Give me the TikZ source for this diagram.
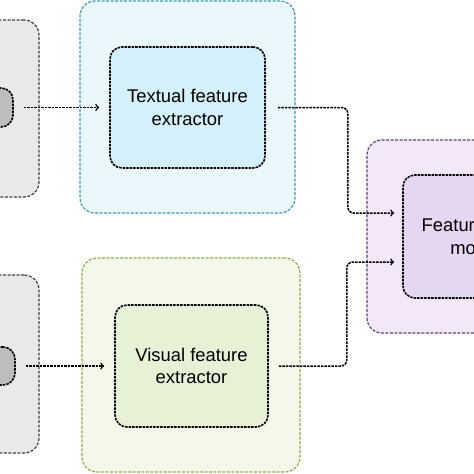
\documentclass[tikz,border=0pt]{standalone}
\usepackage{fontspec}
\setmainfont{Liberation Sans}
\usetikzlibrary{calc}

\definecolor{grayout}{HTML}{E9E9E9}
\definecolor{grayin}{HTML}{BDBDBD}
\definecolor{blueout}{HTML}{EAF7FC}
\definecolor{bluein}{HTML}{D4F0FA}
\definecolor{blueline}{HTML}{3E9DB5}
\definecolor{greenout}{HTML}{F4F8EA}
\definecolor{greenin}{HTML}{E6F1D6}
\definecolor{greenline}{HTML}{8FAE4E}
\definecolor{purpleout}{HTML}{F2E8F7}
\definecolor{purplein}{HTML}{E5D6F2}
\definecolor{purpleline}{HTML}{5A4575}

\begin{document}
\begin{tikzpicture}[x=1pt,y=-1pt,
    outerbox/.style={rectangle,rounded corners=15pt,dash pattern=on 3pt off 1.5pt,line width=1.2pt,inner sep=0pt},
    innerbox/.style={rectangle,rounded corners=12pt,draw=black,dash pattern=on 2.5pt off 1pt,line width=1.6pt,inner sep=0pt,align=center,font=\fontsize{18.4}{22.5}\selectfont},
    flow/.style={->,dash pattern=on 2.5pt off 1pt,line width=1.5pt,rounded corners=6pt}]
        \clip (0,0) rectangle (474,474);

        \node[outerbox,draw=black!75,fill=grayout,minimum width=100pt,minimum height=177pt] (t0) at (-11,108.5) {};
        \node[innerbox,fill=grayin,minimum width=54pt,minimum height=39pt] (t1) at (-14,107.5) {};

        \node[outerbox,draw=blueline,fill=blueout,minimum width=215pt,minimum height=212pt] (tx0) at (187.5,107) {};
        \node[innerbox,fill=bluein,minimum width=155pt,minimum height=121pt] (tx1) at (187.5,107.5) {Textual feature\\extractor};
        \draw[flow,shorten <=10pt,shorten >=10pt] (t1.east) -- (tx1.west);

        \node[outerbox,draw=black!75,fill=grayout,minimum width=100pt,minimum height=178pt] (v0) at (-11,364) {};
        \node[innerbox,fill=grayin,minimum width=56pt,minimum height=38pt] (v1) at (-13,366) {};

        \node[outerbox,draw=greenline,fill=greenout,minimum width=218pt,minimum height=214pt] (vi0) at (191,365) {};
        \node[innerbox,fill=greenin,minimum width=153pt,minimum height=122pt] (vi1) at (191.5,366) {Visual feature\\extractor};
        \draw[flow,shorten <=10pt,shorten >=10pt] (v1.east) -- (vi1.west);

        \node[outerbox,draw=purpleline,fill=purpleout,minimum width=226pt,minimum height=193pt] (fu0) at (480,236.5) {};
        \node[innerbox,fill=purplein,minimum width=155pt,minimum height=123pt] (fu1) at (480.5,236.5) {Feature fusion\\module};

        \draw[flow,shorten <=12pt,shorten >=8pt] (tx1.east) -- ++(82,0) |- ([yshift=23.5pt]fu1.west);
        \draw[flow,shorten <=10pt,shorten >=8pt] (vi1.east) -- ++(78,0) |- ([yshift=-25.5pt]fu1.west);
\end{tikzpicture}
\end{document}
